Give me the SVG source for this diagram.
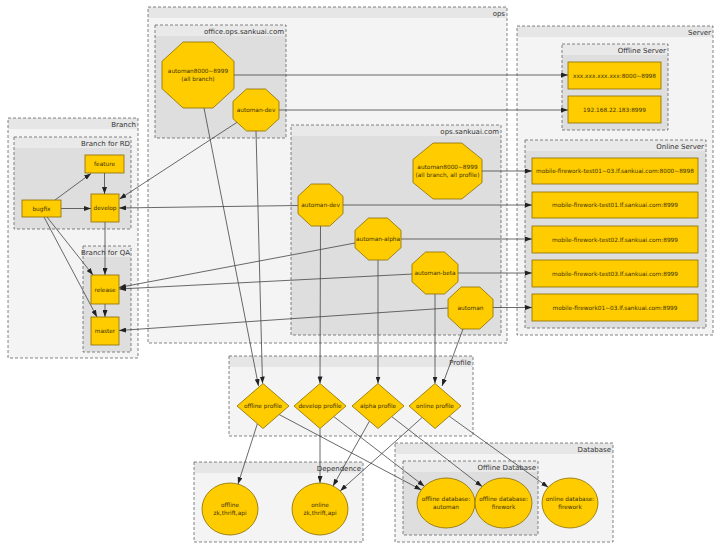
<svg xmlns="http://www.w3.org/2000/svg" width="720" height="550" viewBox="0 0 720 550">
<style>
.ob{fill:#f4f4f4;stroke:none}
.oh{fill:#e6e6e6;stroke:none}
.ib{fill:#dedede;stroke:none}
.ih{fill:#e9e9e9;stroke:none}
.cb{fill:none;stroke:#666;stroke-width:0.8;stroke-dasharray:3,2}
.ct{font-family:"DejaVu Sans",sans-serif;font-size:7px;fill:#333;text-anchor:end}
.n{fill:#ffcc00;stroke:#8a6c00;stroke-width:0.8}
.t{font-family:"DejaVu Sans",sans-serif;font-size:5.8px;fill:#3d3200;text-anchor:middle}
.e{fill:none;stroke:#444;stroke-width:0.8;marker-end:url(#a)}
</style>
<defs>
<marker id="a" markerWidth="7" markerHeight="5" refX="7" refY="2.5" orient="auto" markerUnits="userSpaceOnUse">
<path d="M0,0 L7,2.5 L0,5 z" fill="#222"/>
</marker>
</defs>
<rect width="720" height="550" fill="#fff"/>

<g id="clusters">
<g id="c-branch"><rect class="ob" x="8" y="118" width="130" height="240"/><rect class="oh" x="8" y="118" width="130" height="11"/><rect class="cb" x="8" y="118" width="130" height="240"/><text class="ct" x="136" y="127">Branch</text></g>
<g id="c-rd"><rect class="ib" x="14" y="137" width="117" height="92"/><rect class="ih" x="14" y="137" width="117" height="11"/><rect class="cb" x="14" y="137" width="117" height="92"/><text class="ct" x="130" y="146">Branch for RD</text></g>
<g id="c-qa"><rect class="ib" x="83" y="246" width="48" height="106"/><rect class="ih" x="83" y="246" width="48" height="11"/><rect class="cb" x="83" y="246" width="48" height="106"/><text class="ct" x="130" y="255">Branch for QA</text></g>
<g id="c-ops"><rect class="ob" x="148" y="7" width="359" height="336"/><rect class="oh" x="148" y="7" width="359" height="11"/><rect class="cb" x="148" y="7" width="359" height="336"/><text class="ct" x="505" y="16">ops</text></g>
<g id="c-office"><rect class="ib" x="155" y="25" width="131" height="113"/><rect class="ih" x="155" y="25" width="131" height="11"/><rect class="cb" x="155" y="25" width="131" height="113"/><text class="ct" x="284" y="34">office.ops.sankuai.com</text></g>
<g id="c-opss"><rect class="ib" x="291" y="125" width="210" height="210"/><rect class="ih" x="291" y="125" width="210" height="11"/><rect class="cb" x="291" y="125" width="210" height="210"/><text class="ct" x="499" y="134">ops.sankuai.com</text></g>
<g id="c-server"><rect class="ob" x="517" y="26" width="196" height="309"/><rect class="oh" x="517" y="26" width="196" height="11"/><rect class="cb" x="517" y="26" width="196" height="309"/><text class="ct" x="711" y="35">Server</text></g>
<g id="c-offsrv"><rect class="ib" x="562" y="44" width="106" height="86"/><rect class="ih" x="562" y="44" width="106" height="11"/><rect class="cb" x="562" y="44" width="106" height="86"/><text class="ct" x="666" y="53">Offline Server</text></g>
<g id="c-onsrv"><rect class="ib" x="525" y="140" width="181" height="188"/><rect class="ih" x="525" y="140" width="181" height="11"/><rect class="cb" x="525" y="140" width="181" height="188"/><text class="ct" x="704" y="149">Online Server</text></g>
<g id="c-profile"><rect class="ob" x="229" y="356" width="244" height="80"/><rect class="oh" x="229" y="356" width="244" height="11"/><rect class="cb" x="229" y="356" width="244" height="80"/><text class="ct" x="471" y="365">Profile</text></g>
<g id="c-dep"><rect class="ob" x="194" y="462" width="169" height="80"/><rect class="oh" x="194" y="462" width="169" height="11"/><rect class="cb" x="194" y="462" width="169" height="80"/><text class="ct" x="361" y="471">Dependence</text></g>
<g id="c-db"><rect class="ob" x="395" y="443" width="218" height="99"/><rect class="oh" x="395" y="443" width="218" height="11"/><rect class="cb" x="395" y="443" width="218" height="99"/><text class="ct" x="611" y="452">Database</text></g>
<g id="c-offdb"><rect class="ib" x="403" y="461" width="135" height="74"/><rect class="ih" x="403" y="461" width="135" height="11"/><rect class="cb" x="403" y="461" width="135" height="74"/><text class="ct" x="536" y="470">Offline Database</text></g>
</g>

<g id="connectors">
<line class="e" x1="55" y1="200" x2="91" y2="173.5"/>
<line class="e" x1="61" y1="208.5" x2="91" y2="208.5"/>
<line class="e" x1="104.5" y1="173" x2="104.5" y2="194"/>
<line class="e" x1="105" y1="222" x2="105" y2="275"/>
<line class="e" x1="47" y1="217" x2="93" y2="275"/>
<line class="e" x1="44" y1="217" x2="97" y2="317"/>
<line class="e" x1="105" y1="304" x2="105" y2="317"/>
<line class="e" x1="234" y1="75" x2="568" y2="75"/>
<line class="e" x1="279" y1="110" x2="568" y2="110"/>
<line class="e" x1="237" y1="122.3" x2="119.5" y2="199"/>
<line class="e" x1="204" y1="108" x2="258.5" y2="386"/>
<line class="e" x1="256" y1="131" x2="262.5" y2="383.5"/>
<line class="e" x1="482" y1="171" x2="532" y2="171"/>
<line class="e" x1="298" y1="205.5" x2="119" y2="208"/>
<line class="e" x1="343" y1="205" x2="532" y2="205"/>
<line class="e" x1="320.5" y1="226" x2="320" y2="383.5"/>
<line class="e" x1="355" y1="243" x2="119" y2="287.5"/>
<line class="e" x1="401" y1="239" x2="532" y2="239"/>
<line class="e" x1="378" y1="260" x2="378" y2="383.5"/>
<line class="e" x1="413" y1="274" x2="119" y2="289"/>
<line class="e" x1="458" y1="273" x2="532" y2="273"/>
<line class="e" x1="435" y1="294" x2="435" y2="383.5"/>
<line class="e" x1="448" y1="308" x2="119" y2="330.5"/>
<line class="e" x1="493" y1="307.5" x2="532" y2="307.5"/>
<line class="e" x1="463" y1="329" x2="442" y2="386"/>
<line class="e" x1="257.4" y1="423.6" x2="238" y2="484.1"/>
<line class="e" x1="279.1" y1="414.5" x2="421.3" y2="489.9"/>
<line class="e" x1="320" y1="428.5" x2="320" y2="483"/>
<line class="e" x1="333.8" y1="416.6" x2="424.4" y2="486.3"/>
<line class="e" x1="369.5" y1="421.1" x2="333" y2="486"/>
<line class="e" x1="391.7" y1="416.6" x2="482.1" y2="486.5"/>
<line class="e" x1="422.2" y1="417.4" x2="340.2" y2="490.9"/>
<line class="e" x1="449.2" y1="416.2" x2="548.2" y2="487.3"/>
</g>

<g id="feature"><rect class="n" x="85" y="155" width="39" height="18"/><text class="t" x="104.5" y="166">feature</text></g>
<g id="develop"><rect class="n" x="91" y="194" width="28" height="28"/><text class="t" x="105" y="210">develop</text></g>
<g id="bugfix"><rect class="n" x="22" y="200" width="39" height="17"/><text class="t" x="41.5" y="210.5">bugfix</text></g>
<g id="release"><rect class="n" x="91" y="275" width="28" height="29"/><text class="t" x="105" y="291.5">release</text></g>
<g id="master"><rect class="n" x="91" y="317" width="28" height="28"/><text class="t" x="105" y="333">master</text></g>

<g id="office-automan-all"><polygon class="n" points="183.1,42 212.9,42 234,61.3 234,88.7 212.9,108 183.1,108 162,88.7 162,61.3"/><text class="t" x="198" y="73">automan8000~8999</text><text class="t" x="198" y="80.5">(all branch)</text></g>
<g id="office-automan-dev"><polygon class="n" points="246.5,89 265.5,89 279,101.3 279,118.7 265.5,131 246.5,131 233,118.7 233,101.3"/><text class="t" x="256" y="112">automan-dev</text></g>
<g id="ops-automan-all"><polygon class="n" points="433.2,143 461.8,143 482,159.4 482,182.6 461.8,199 433.2,199 413,182.6 413,159.4"/><text class="t" x="447.5" y="169">automan8000~8999</text><text class="t" x="447.5" y="176.5">(all branch, all profile)</text></g>
<g id="ops-automan-dev"><polygon class="n" points="311.2,184 329.8,184 343,196.3 343,213.7 329.8,226 311.2,226 298,213.7 298,196.3"/><text class="t" x="320.5" y="207">automan-dev</text></g>
<g id="automan-alpha"><polygon class="n" points="368.5,218 387.5,218 401,230.3 401,247.7 387.5,260 368.5,260 355,247.7 355,230.3"/><text class="t" x="378" y="241">automan-alpha</text></g>
<g id="automan-beta"><polygon class="n" points="425.5,252 444.5,252 458,264.3 458,281.7 444.5,294 425.5,294 412,281.7 412,264.3"/><text class="t" x="435" y="275">automan-beta</text></g>
<g id="automan"><polygon class="n" points="461.2,287 479.8,287 493,299.3 493,316.7 479.8,329 461.2,329 448,316.7 448,299.3"/><text class="t" x="470.5" y="310">automan</text></g>

<g id="srv-offline-1"><rect class="n" x="568" y="62" width="93" height="27"/><text class="t" x="614.5" y="77.5">xxx.xxx.xxx.xxx:8000~8998</text></g>
<g id="srv-offline-2"><rect class="n" x="568" y="96" width="93" height="27"/><text class="t" x="614.5" y="111.5">192.168.22.183:8999</text></g>
<g id="srv-online-1"><rect class="n" x="532" y="158" width="166" height="26"/><text class="t" x="615" y="173">mobile-firework-test01~03.lf.sankuai.com:8000~8998</text></g>
<g id="srv-online-2"><rect class="n" x="532" y="192" width="166" height="26"/><text class="t" x="615" y="207">mobile-firework-test01.lf.sankuai.com:8999</text></g>
<g id="srv-online-3"><rect class="n" x="532" y="226" width="166" height="27"/><text class="t" x="615" y="241.5">mobile-firework-test02.lf.sankuai.com:8999</text></g>
<g id="srv-online-4"><rect class="n" x="532" y="260" width="166" height="27"/><text class="t" x="615" y="275.5">mobile-firework-test03.lf.sankuai.com:8999</text></g>
<g id="srv-online-5"><rect class="n" x="532" y="294" width="166" height="27"/><text class="t" x="615" y="309.5">mobile-firework01~03.lf.sankuai.com:8999</text></g>

<g id="offline-profile"><polygon class="n" points="263,383.5 289,406 263,428.5 237,406"/><text class="t" x="263" y="408">offline profile</text></g>
<g id="develop-profile"><polygon class="n" points="320,383.5 346,406 320,428.5 294,406"/><text class="t" x="320" y="408">develop profile</text></g>
<g id="alpha-profile"><polygon class="n" points="378,383.5 404,406 378,428.5 352,406"/><text class="t" x="378" y="408">alpha profile</text></g>
<g id="online-profile"><polygon class="n" points="435,383.5 461,406 435,428.5 409,406"/><text class="t" x="435" y="408">online profile</text></g>

<g id="offline-zk"><ellipse class="n" cx="230" cy="509" rx="28" ry="26"/><text class="t" x="230" y="507">offline</text><text class="t" x="230" y="514.5">zk,thrift,api</text></g>
<g id="online-zk"><ellipse class="n" cx="320" cy="509" rx="28" ry="26"/><text class="t" x="320" y="507">online</text><text class="t" x="320" y="514.5">zk,thrift,api</text></g>
<g id="offline-db-automan"><ellipse class="n" cx="446" cy="503" rx="29" ry="25"/><text class="t" x="446" y="501">offline database:</text><text class="t" x="446" y="508.5">automan</text></g>
<g id="offline-db-firework"><ellipse class="n" cx="503.5" cy="503" rx="28.5" ry="25"/><text class="t" x="503.5" y="501">offline database:</text><text class="t" x="503.5" y="508.5">firework</text></g>
<g id="online-db-firework"><ellipse class="n" cx="570" cy="503" rx="28" ry="25"/><text class="t" x="570" y="501">online database:</text><text class="t" x="570" y="508.5">firework</text></g>
</svg>
